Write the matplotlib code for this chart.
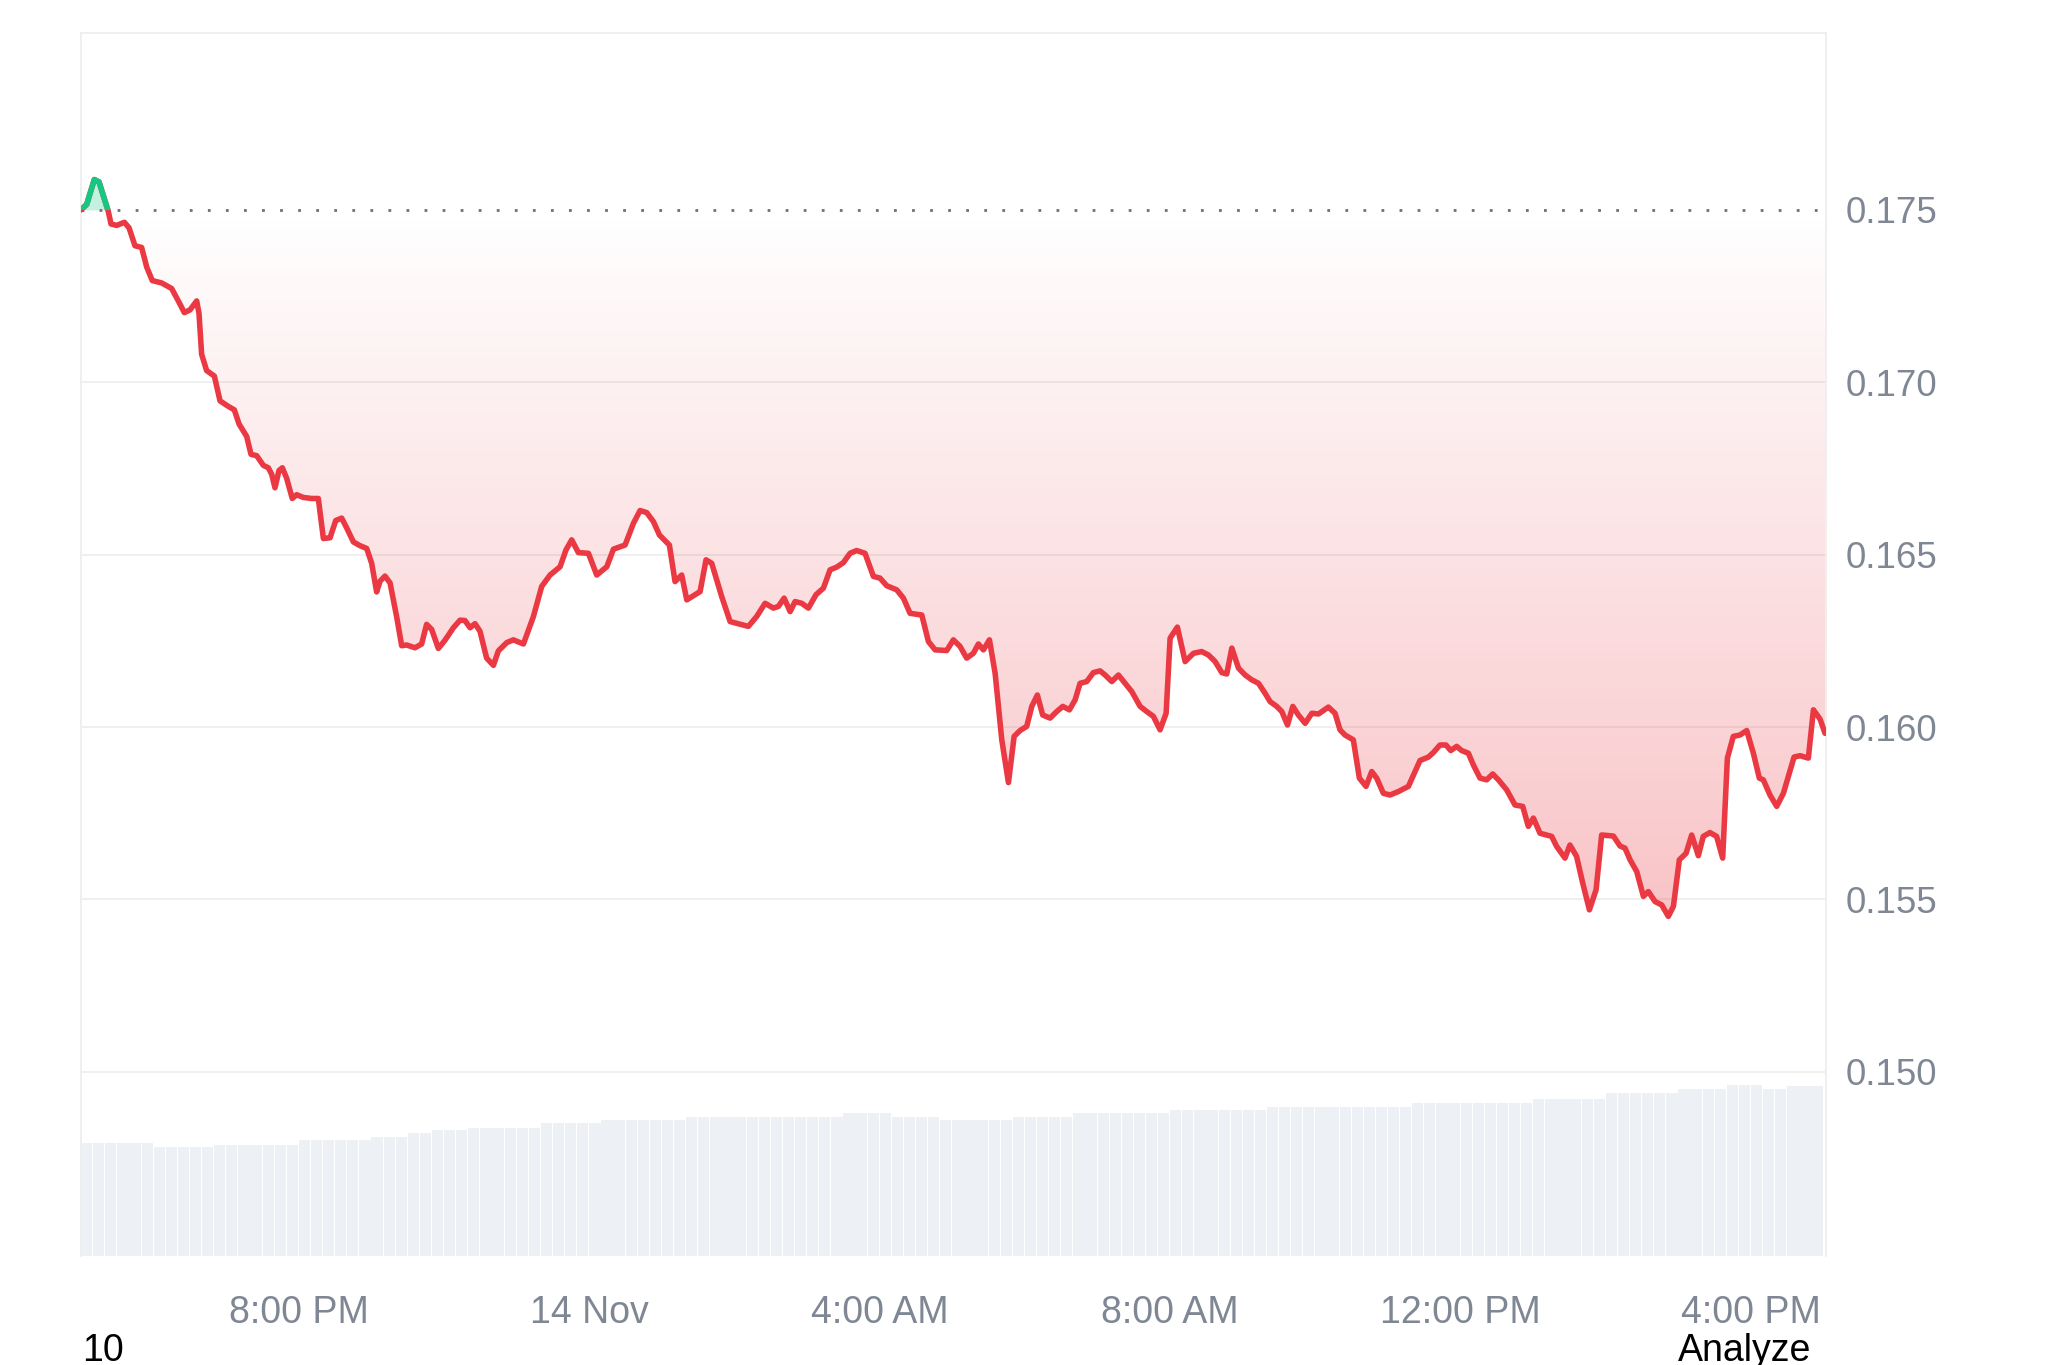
import numpy as np
import matplotlib
matplotlib.use('Agg')
import matplotlib.pyplot as plt
from matplotlib.path import Path
from matplotlib.patches import Rectangle
from matplotlib.colors import LinearSegmentedColormap

plt.rcParams['font.family'] = ['Liberation Sans', 'DejaVu Sans']

# minutes after 5:00 PM (13 Nov) and price
minutes = [
    0, 4.7, 7.4, 11.0, 14.9, 18.5, 22.6, 24.8, 29.5, 35.8, 39.7, 44.6, 50.1, 54.3, 58.9,
    66.7, 74.9, 80.4, 85.4, 90.1, 95.6, 97.5, 99.7, 103.8, 110.2, 114.9, 121.8, 126.7,
    130.6, 136.9, 140.5, 145.2, 150.7, 154.8, 157.6, 160.3, 163.6, 166.4, 169.9, 174.6,
    178.2, 183.7, 190.6, 196.1, 200.3, 205.8, 210.5, 215.4, 219.5, 225.1, 230.6, 236.1,
    240.2, 244.3, 247.1, 251.2, 255.4, 260.9, 265.0, 269.1, 276.0, 281.5, 285.6, 289.8,
    295.3, 300.8, 307.7, 313.2, 317.3, 321.5, 325.6, 329.7, 335.2, 340.8, 344.9,
    351.8, 357.3, 365.6, 373.8, 380.7, 387.6, 395.9, 400.8, 405.5, 411.0, 419.3, 426.2,
    434.5, 440.0, 449.6, 456.5, 462.0, 467.5, 473.0, 478.0, 486.2, 490.9, 496.4, 500.6,
    511.6, 516.5, 521.2, 529.5, 536.4, 551.5, 558.4, 565.3, 572.2, 576.3, 581.0, 586.0,
    590.1, 595.6, 601.1, 607.4, 613.5, 619.0, 624.5, 630.0, 635.5, 641.0, 647.9, 654.8,
    660.3, 665.8, 674.1, 679.6, 685.1, 694.8, 700.3, 705.8,
    715.4, 720.9, 726.4, 731.9, 737.4, 741.6, 745.7, 750.7, 755.4, 760.9, 766.4, 771.1,
    776.0, 781.5, 785.7, 790.3, 794.7, 800.8, 806.3, 811.3, 816.8, 821.5, 825.6, 831.1,
    836.6, 842.1, 846.3, 851.8, 857.3, 862.8, 868.3, 875.2, 880.7, 886.2, 891.7, 896.7,
    900.0, 906.0, 912.4, 919.3, 926.1, 931.7, 937.2, 942.7, 946.8, 951.0, 956.5, 962.0,
    967.5, 973.0, 978.5, 982.6, 988.1, 992.3, 997.0, 1001.4, 1006.0, 1011.6, 1017.1,
    1022.6, 1030.8, 1036.3,
    1040.4, 1044.5, 1051.4, 1056.4, 1061.9, 1066.6, 1070.7, 1076.2, 1081.7, 1088.6,
    1096.9, 1102.4, 1106.5, 1113.4, 1117.5, 1123.0, 1128.0, 1131.9, 1136.8, 1140.9,
    1146.5, 1150.6, 1156.1, 1161.6, 1166.6, 1171.3, 1178.1, 1185.0, 1191.4, 1196.0,
    1200.2, 1205.7, 1215.3, 1219.4, 1226.3, 1230.4, 1235.9, 1241.0, 1246.5, 1252.0,
    1256.6, 1266.3, 1271.8, 1275.9, 1280.1, 1285.6, 1291.1, 1295.2, 1300.7, 1306.3,
    1311.7, 1315.9, 1320.8, 1326.4, 1331.0, 1336.5, 1340.6, 1346.1, 1351.6, 1356.6,
    1360.5, 1365.4, 1370.9, 1376.5, 1382.0, 1386.9, 1390.2, 1395.7, 1401.3, 1406.8,
    1415.6, 1420.6, 1427.4, 1431.6, 1437.1, 1441.2,
]
price = [
    0.17500, 0.17516, 0.17547, 0.17588, 0.17581, 0.17541, 0.17495, 0.17459, 0.17455,
    0.17464, 0.17448, 0.17396, 0.17391, 0.17334, 0.17295, 0.17288, 0.17272, 0.17236,
    0.17202, 0.17210, 0.17236, 0.17200, 0.17081, 0.17034, 0.17018, 0.16946, 0.16930,
    0.16920, 0.16879, 0.16843, 0.16791, 0.16787, 0.16759, 0.16752, 0.16733, 0.16694,
    0.16744, 0.16752, 0.16722, 0.16663, 0.16674, 0.16666, 0.16663, 0.16663, 0.16547,
    0.16549, 0.16599, 0.16606, 0.16578, 0.16537, 0.16526, 0.16518, 0.16475, 0.16392,
    0.16423, 0.16438, 0.16418, 0.16319, 0.16236, 0.16238, 0.16230, 0.16241, 0.16298,
    0.16283, 0.16228, 0.16252, 0.16288, 0.16310, 0.16309, 0.16288, 0.16300, 0.16278,
    0.16200, 0.16179, 0.16221,
    0.16245, 0.16253, 0.16241, 0.16320, 0.16408, 0.16441, 0.16465, 0.16514, 0.16543,
    0.16506, 0.16504, 0.16441, 0.16465, 0.16516, 0.16528, 0.16591, 0.16628, 0.16622,
    0.16596, 0.16557, 0.16528, 0.16422, 0.16441, 0.16369, 0.16393, 0.16485, 0.16475,
    0.16378, 0.16306, 0.16292, 0.16321, 0.16359, 0.16345, 0.16350, 0.16374, 0.16335,
    0.16364, 0.16359, 0.16345, 0.16384, 0.16403, 0.16456, 0.16464, 0.16477, 0.16504,
    0.16512, 0.16504, 0.16437, 0.16432, 0.16410, 0.16398, 0.16374, 0.16330, 0.16325,
    0.16248, 0.16224,
    0.16222, 0.16253, 0.16234, 0.16200, 0.16214, 0.16241, 0.16224, 0.16253, 0.16156,
    0.15963, 0.15839, 0.15973, 0.15990, 0.16002, 0.16060, 0.16093, 0.16035, 0.16026,
    0.16045, 0.16060, 0.16050, 0.16079, 0.16127, 0.16132, 0.16158, 0.16163, 0.16151,
    0.16132, 0.16151, 0.16127, 0.16103, 0.16060, 0.16045, 0.16031, 0.15992, 0.16040,
    0.16258, 0.16290, 0.16190, 0.16214, 0.16219, 0.16209, 0.16190, 0.16158, 0.16154,
    0.16229, 0.16171, 0.16151, 0.16137, 0.16127, 0.16098, 0.16074, 0.16060, 0.16045,
    0.16006, 0.16060, 0.16035, 0.16011, 0.16040, 0.16038, 0.16058, 0.16040,
    0.15992, 0.15977, 0.15963, 0.15852, 0.15828, 0.15871, 0.15852, 0.15808, 0.15803,
    0.15813, 0.15828, 0.15871, 0.15903, 0.15913, 0.15926, 0.15948, 0.15948, 0.15932,
    0.15944, 0.15932, 0.15924, 0.15890, 0.15852, 0.15847, 0.15864, 0.15847, 0.15818,
    0.15774, 0.15770, 0.15712, 0.15736, 0.15692, 0.15683, 0.15654, 0.15620, 0.15658,
    0.15625, 0.15547, 0.15470, 0.15528, 0.15687, 0.15684, 0.15655, 0.15649, 0.15615,
    0.15581, 0.15509, 0.15523, 0.15494, 0.15484, 0.15451, 0.15480, 0.15615, 0.15634,
    0.15687, 0.15627, 0.15683, 0.15694, 0.15683, 0.15620, 0.15910, 0.15973, 0.15977,
    0.15990, 0.15924, 0.15852, 0.15847, 0.15803, 0.15770, 0.15808, 0.15913, 0.15917,
    0.15910, 0.16050, 0.16023, 0.15982,
]

# volume bars, one per 10 minutes (arbitrary units, M)
volume = [
    11.3, 11.3, 11.3, 11.3, 11.3, 11.3, 10.9, 10.9, 10.9, 10.9, 10.9,
    11.1, 11.1, 11.1, 11.1, 11.1, 11.1, 11.1, 11.6, 11.6, 11.6, 11.6, 11.6, 11.6,
    11.9, 11.9, 11.9, 12.3, 12.3, 12.6, 12.6, 12.6, 12.8, 12.8, 12.8, 12.8, 12.8, 12.8,
    13.3, 13.3, 13.3, 13.3, 13.3, 13.6, 13.6, 13.6, 13.6, 13.6, 13.6, 13.6,
    13.9, 13.9, 13.9, 13.9, 13.9, 13.9, 13.9, 13.9, 13.9, 13.9, 13.9, 13.9, 13.9,
    14.3, 14.3, 14.3, 14.3, 13.9, 13.9, 13.9, 13.9, 13.6, 13.6, 13.6, 13.6, 13.6, 13.6,
    13.9, 13.9, 13.9, 13.9, 13.9, 14.3, 14.3, 14.3, 14.3, 14.3, 14.3, 14.3, 14.3,
    14.6, 14.6, 14.6, 14.6, 14.6, 14.6, 14.6, 14.6,
    14.9, 14.9, 14.9, 14.9, 14.9, 14.9, 14.9, 14.9, 14.9, 14.9, 14.9, 14.9,
    15.3, 15.3, 15.3, 15.3, 15.3, 15.3, 15.3, 15.3, 15.3, 15.3,
    15.7, 15.7, 15.7, 15.7, 15.7, 15.7, 16.3, 16.3, 16.3, 16.3, 16.3, 16.3,
    16.7, 16.7, 16.7, 16.7, 17.1, 17.1, 17.1, 16.7, 16.7, 17.0, 17.0, 17.0,
]
volume_start = np.arange(len(volume)) * 10

baseline = 0.175
grid_prices = [0.150, 0.155, 0.160, 0.165, 0.170]
price_ticks = [0.150, 0.155, 0.160, 0.165, 0.170, 0.175]
tick_minutes = [180, 420, 660, 900, 1140, 1380]
tick_labels = ['8:00 PM', '14 Nov', '4:00 AM', '8:00 AM', '12:00 PM', '4:00 PM']

red = '#ea3943'
green = '#16c784'
label_grey = '#7f8794'

t = np.array(minutes)
p = np.array(price)
x_max = 1442

fig = plt.figure(figsize=(20.48, 13.65), dpi=100)
left, width = 81 / 2048, 1745 / 2048
axv = fig.add_axes([left, 109 / 1365, width, 184 / 1365])
ax = fig.add_axes([left, 109 / 1365, width, 1223 / 1365])
ax.set_facecolor('none')

# volume strip
axv.bar(volume_start, volume, width=9.3, align='edge', color='#edf0f4', linewidth=0)
axv.set_xlim(0, x_max)
axv.set_ylim(0, 18.4)
axv.axis('off')

# grid and previous-close dotted line
for g in grid_prices:
    ax.axhline(g, color='#eeeeee', lw=1.3, zorder=0)
ax.axhline(baseline, xmin=0, xmax=0.998, color='#707070', lw=2.0,
           linestyle=(0, (1, 5.5)), zorder=2)

# red gradient fill under the baseline
poly = ax.fill_between(t, p, baseline, where=p <= baseline, interpolate=True,
                       facecolor='none', edgecolor='none')
clip = Path.make_compound_path(*poly.get_paths())
fade = LinearSegmentedColormap.from_list('fade', [(0.918, 0.224, 0.263, 0.0),
                                                  (0.918, 0.224, 0.263, 0.30)])
grad = np.linspace(1, 0, 256).reshape(-1, 1)
im = ax.imshow(grad, extent=[0, x_max, p.min(), baseline], origin='lower',
               aspect='auto', cmap=fade, zorder=1, interpolation='bicubic')
im.set_clip_path(clip, transform=ax.transData)

# green fill above
ax.fill_between(t, p, baseline, where=p >= baseline, interpolate=True,
                color=green, alpha=0.25, lw=0, zorder=1)

ax.plot(t, p, color=red, lw=4.0, solid_joinstyle='round', solid_capstyle='round', zorder=3)
gl, = ax.plot(t, p, color=green, lw=4.0, solid_joinstyle='round', zorder=4)
gl.set_clip_path(Rectangle((0, baseline), x_max, 0.1, transform=ax.transData))

ax.set_xlim(0, x_max)
ax.set_ylim(0.14466, 0.18013)

for side in ['left', 'right', 'top']:
    ax.spines[side].set_color('#eeeeee')
    ax.spines[side].set_linewidth(1.3)
ax.spines['bottom'].set_visible(False)

ax.yaxis.tick_right()
ax.set_yticks(price_ticks)
ax.set_yticklabels(['%.3f' % v for v in price_ticks])
ax.tick_params(axis='y', length=0, pad=14, labelsize=26.5, labelcolor=label_grey)
ax.set_xticks(tick_minutes)
ax.set_xticklabels(tick_labels)
ax.tick_params(axis='x', length=0, pad=28, labelsize=27, labelcolor=label_grey)

fig.text(82 / 2048, 1 - 1333 / 1365, '10', fontsize=27, color='black', va='top')
fig.text(1678 / 2048, 1 - 1333 / 1365, 'Analyze', fontsize=27, color='black', va='top')

fig.savefig('out.png', dpi=100)
